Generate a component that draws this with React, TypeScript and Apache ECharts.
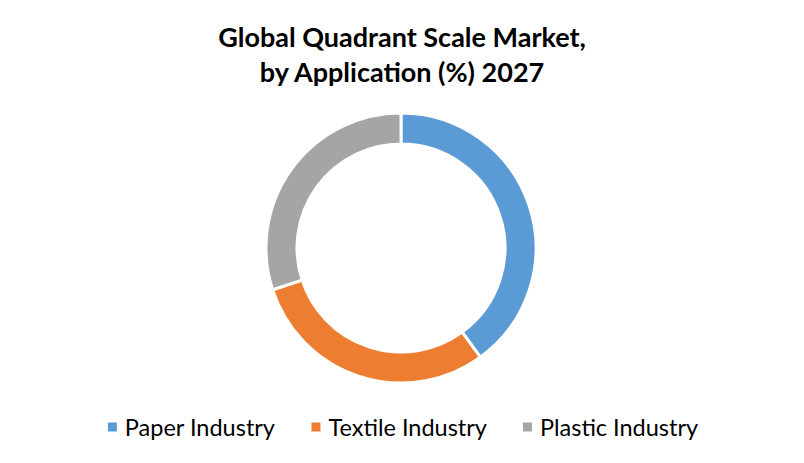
import React, { useEffect, useRef } from "react";
import * as echarts from "echarts";

const categories = ["Paper Industry", "Textile Industry", "Plastic Industry"];
const shares = [40, 30, 30];
const colors = ["#5B9BD5", "#ED7D31", "#A5A5A5"];

export default function App() {
  const chartRef = useRef<HTMLDivElement>(null);

  useEffect(() => {
    if (!chartRef.current) return;
    const chart = echarts.init(chartRef.current, undefined, { renderer: "svg" });
    chart.setOption({
      animation: false,
      backgroundColor: "#ffffff",
      color: colors,
      title: {
        text: "Global Quadrant Scale Market,\nby Application (%) 2027",
        left: "center",
        top: 14,
        textStyle: { fontFamily: "Lato", fontWeight: "bold", fontSize: 27, lineHeight: 35, color: "#000" },
      },
      legend: {
        bottom: 19,
        left: "center",
        icon: "rect",
        itemWidth: 11,
        itemHeight: 11,
        itemGap: 34,
        textStyle: { fontFamily: "Lato", fontSize: 23.5, color: "#000", padding: [0, 0, 0, 2] },
        data: categories,
      },
      series: [
        {
          type: "pie",
          center: [401, 248],
          radius: [104, 135],
          startAngle: 90,
          clockwise: true,
          label: { show: false },
          labelLine: { show: false },
          itemStyle: { borderColor: "#fff", borderWidth: 3 },
          emphasis: { disabled: true },
          data: categories.map((name, i) => ({ name, value: shares[i] })),
        },
      ],
    });
    return () => chart.dispose();
  }, []);

  return <div ref={chartRef} style={{ width: 804, height: 463, margin: -8 }} />;
}
